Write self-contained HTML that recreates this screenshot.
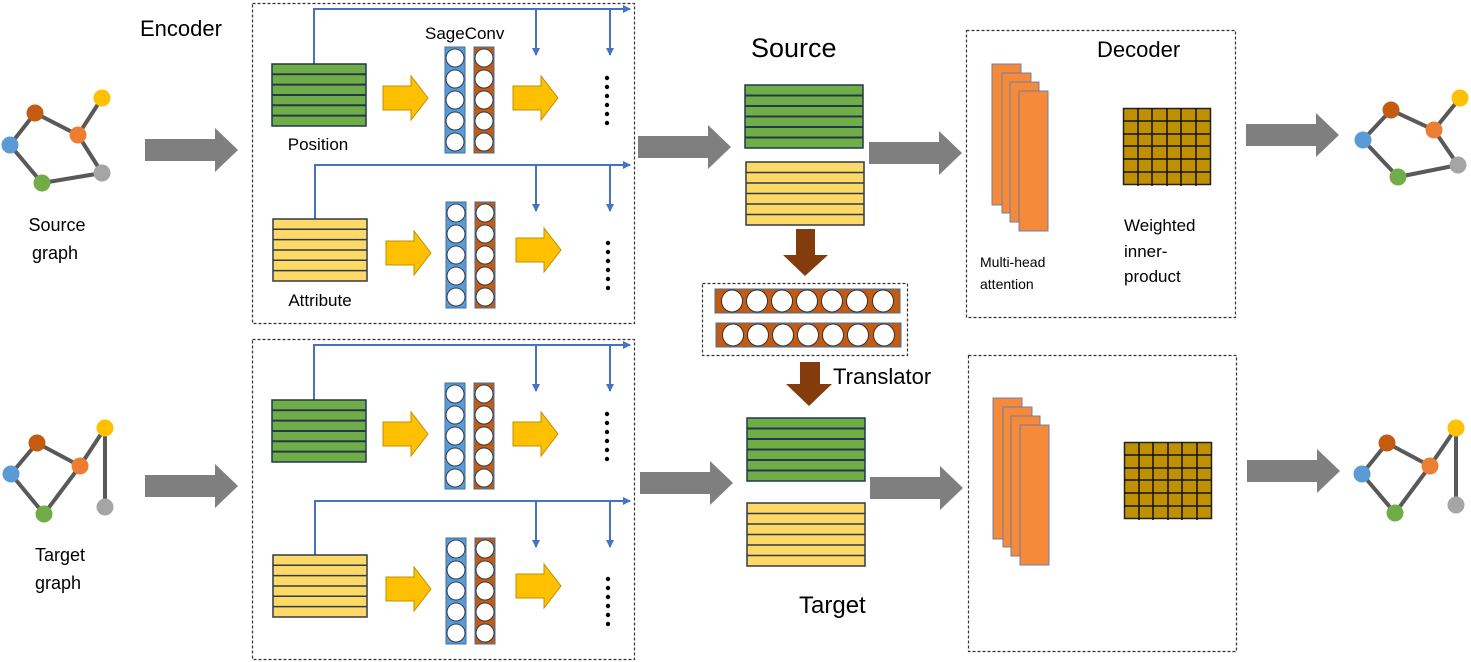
<!DOCTYPE html>
<html><head><meta charset="utf-8"><style>
html,body{margin:0;padding:0;background:#fff;}
svg{display:block;font-family:"Liberation Sans",sans-serif;}
</style></head><body>
<svg width="1471" height="662" viewBox="0 0 1471 662" xmlns="http://www.w3.org/2000/svg">
<defs>
  <marker id="ah" markerWidth="8" markerHeight="8" refX="7" refY="4" orient="auto" markerUnits="userSpaceOnUse">
    <path d="M0,0 L8,4 L0,8 z" fill="#4472c4"/>
  </marker>
  <g id="gblk">
    <rect x="0" y="0" width="94" height="62" fill="#70ad47" stroke="#1f3b4d" stroke-width="1.5"/>
    <path d="M0,10.3H94M0,20.6H94M0,31H94M0,41.3H94M0,51.6H94" stroke="#1f3b4d" stroke-width="2"/>
  </g>
  <g id="yblk">
    <rect x="0" y="0" width="94" height="62" fill="#ffd966" stroke="#2f3b4d" stroke-width="1.5"/>
    <path d="M0,10.3H94M0,20.6H94M0,31H94M0,41.3H94M0,51.6H94" stroke="#2f3b4d" stroke-width="1.5"/>
  </g>
  <g id="gblk2">
    <rect x="0" y="0" width="118" height="63" fill="#70ad47" stroke="#1f3b4d" stroke-width="1.5"/>
    <path d="M0,10.5H118M0,21H118M0,31.5H118M0,42H118M0,52.5H118" stroke="#1f3b4d" stroke-width="2"/>
  </g>
  <g id="yblk2">
    <rect x="0" y="0" width="118" height="63" fill="#ffd966" stroke="#2f3b4d" stroke-width="1.5"/>
    <path d="M0,10.5H118M0,21H118M0,31.5H118M0,42H118M0,52.5H118" stroke="#2f3b4d" stroke-width="1.5"/>
  </g>
  <g id="cols">
    <rect x="0" y="0" width="20" height="106" fill="#5b9bd5" stroke="#41719c"/>
    <rect x="29" y="0" width="20" height="106" fill="#c55a11" stroke="#41719c"/>
    <g fill="#fff" stroke="#2f3b4d" stroke-width="1">
      <circle cx="10" cy="11" r="9"/><circle cx="10" cy="32" r="9"/><circle cx="10" cy="53" r="9"/><circle cx="10" cy="74" r="9"/><circle cx="10" cy="95" r="9"/>
      <circle cx="39" cy="11" r="9"/><circle cx="39" cy="32" r="9"/><circle cx="39" cy="53" r="9"/><circle cx="39" cy="74" r="9"/><circle cx="39" cy="95" r="9"/>
    </g>
  </g>
  <polygon id="yarr" points="0,-12 28,-12 28,-22 45,0 28,22 28,12 0,12" fill="#ffc000" stroke="#bf9000" stroke-width="1"/>
  <polygon id="garr" points="0,-11 70,-11 70,-22 93,0 70,22 70,11 0,11" fill="#7f7f7f"/>
  <g id="dots" fill="#000">
    <circle cx="0" cy="0" r="2.2"/><circle cx="0" cy="9" r="2.2"/><circle cx="0" cy="18" r="2.2"/><circle cx="0" cy="27" r="2.2"/><circle cx="0" cy="36" r="2.2"/><circle cx="0" cy="45" r="2.2"/>
  </g>
  <g id="enc">
    <rect x="252.5" y="3.5" width="382" height="320" fill="none" stroke="#333" stroke-width="1.2" stroke-dasharray="3,2"/>
    <path d="M314,64 V9 H630" fill="none" stroke="#4472c4" stroke-width="2" marker-end="url(#ah)"/>
    <path d="M536,9 V55" stroke="#4472c4" stroke-width="2" marker-end="url(#ah)"/>
    <path d="M610,9 V55" stroke="#4472c4" stroke-width="2" marker-end="url(#ah)"/>
    <path d="M315,219 V165 H630" fill="none" stroke="#4472c4" stroke-width="2" marker-end="url(#ah)"/>
    <path d="M536,165 V211" stroke="#4472c4" stroke-width="2" marker-end="url(#ah)"/>
    <path d="M610,165 V211" stroke="#4472c4" stroke-width="2" marker-end="url(#ah)"/>
    <use href="#gblk" x="272" y="64"/>
    <use href="#yblk" x="273" y="219"/>
    <use href="#yarr" x="383" y="98"/>
    <use href="#yarr" x="513" y="98"/>
    <use href="#yarr" x="386" y="253"/>
    <use href="#yarr" x="516" y="250"/>
    <use href="#cols" x="445" y="47"/>
    <use href="#cols" x="446" y="202"/>
    <use href="#dots" x="607" y="78"/>
    <use href="#dots" x="608" y="243"/>
  </g>
  <g id="dec">
    <g fill="#f58a3a" stroke="#6d7fa8" stroke-width="1">
      <rect x="992" y="64" width="29" height="141"/>
      <rect x="1002" y="73" width="29" height="140"/>
      <rect x="1010" y="82" width="29" height="140"/>
      <rect x="1019" y="91" width="29" height="140"/>
    </g>
    <rect x="1123.5" y="108.5" width="87" height="76" fill="#bf9000" stroke="#222" stroke-width="1.5"/>
    <path d="M1123,121H1210M1123,134H1210M1123,146H1210M1123,159H1210M1123,172H1210M1138,108V186M1152,108V186M1167,108V186M1181,108V186M1196,108V186" stroke="#111" stroke-width="1.5"/>
  </g>
</defs>

<!-- encoders -->
<use href="#enc"/>
<use href="#enc" y="336"/>

<text x="140" y="36" font-size="22">Encoder</text>
<text x="425" y="39" font-size="17">SageConv</text>
<text x="318" y="150" font-size="17" text-anchor="middle">Position</text>
<text x="320" y="306" font-size="17" text-anchor="middle">Attribute</text>

<!-- source graph -->
<g stroke="#595959" stroke-width="4">
  <line x1="10" y1="145" x2="35" y2="113"/><line x1="35" y1="113" x2="78" y2="135"/>
  <line x1="78" y1="135" x2="102" y2="98"/><line x1="78" y1="135" x2="102" y2="173"/>
  <line x1="102" y1="173" x2="42" y2="183"/><line x1="42" y1="183" x2="10" y2="145"/>
</g>
<circle cx="35" cy="113" r="8.5" fill="#c55a11"/><circle cx="102" cy="98" r="8.5" fill="#ffc000"/>
<circle cx="78" cy="135" r="8.5" fill="#ed7d31"/><circle cx="10" cy="145" r="8.5" fill="#5b9bd5"/>
<circle cx="42" cy="183" r="8.5" fill="#70ad47"/><circle cx="102" cy="173" r="8.5" fill="#a5a5a5"/>
<text x="57" y="231" font-size="18" text-anchor="middle">Source</text>
<text x="55" y="259" font-size="18" text-anchor="middle">graph</text>

<!-- target graph -->
<g stroke="#595959" stroke-width="4">
  <line x1="11" y1="474" x2="37" y2="443"/><line x1="37" y1="443" x2="80" y2="466"/>
  <line x1="80" y1="466" x2="105" y2="428"/><line x1="105" y1="428" x2="105" y2="507"/>
  <line x1="80" y1="466" x2="44" y2="514"/><line x1="44" y1="514" x2="11" y2="474"/>
</g>
<circle cx="37" cy="443" r="8.5" fill="#c55a11"/><circle cx="105" cy="428" r="8.5" fill="#ffc000"/>
<circle cx="80" cy="466" r="8.5" fill="#ed7d31"/><circle cx="11" cy="474" r="8.5" fill="#5b9bd5"/>
<circle cx="44" cy="514" r="8.5" fill="#70ad47"/><circle cx="105" cy="507" r="8.5" fill="#a5a5a5"/>
<text x="60" y="561" font-size="18" text-anchor="middle">Target</text>
<text x="58" y="589" font-size="18" text-anchor="middle">graph</text>

<!-- gray arrows -->
<use href="#garr" x="145" y="150"/>
<use href="#garr" x="145" y="486"/>
<use href="#garr" x="638" y="147"/>
<use href="#garr" x="640" y="483"/>
<use href="#garr" x="869" y="153"/>
<use href="#garr" x="870" y="488"/>
<use href="#garr" x="1246" y="135"/>
<use href="#garr" x="1247" y="471"/>

<!-- middle -->
<text x="751" y="57" font-size="27">Source</text>
<use href="#gblk2" x="745" y="85"/>
<use href="#yblk2" x="746" y="162"/>
<polygon points="796,229 815,229 815,255 828,255 805,276 783,255 796,255" fill="#843c0c"/>
<rect x="702.5" y="283.5" width="205" height="72" fill="none" stroke="#333" stroke-width="1.2" stroke-dasharray="3,2"/>
<rect x="715" y="289" width="185" height="24" fill="#c55a11" stroke="#41719c"/>
<rect x="716" y="323" width="185" height="24" fill="#c55a11" stroke="#41719c"/>
<g fill="#fff" stroke="#333">
  <ellipse cx="732" cy="301" rx="10.5" ry="11"/><ellipse cx="757" cy="301" rx="10.5" ry="11"/><ellipse cx="782" cy="301" rx="10.5" ry="11"/><ellipse cx="807" cy="301" rx="10.5" ry="11"/><ellipse cx="832" cy="301" rx="10.5" ry="11"/><ellipse cx="857" cy="301" rx="10.5" ry="11"/><ellipse cx="883" cy="301" rx="10.5" ry="11"/>
  <ellipse cx="733" cy="335" rx="10.5" ry="11"/><ellipse cx="758" cy="335" rx="10.5" ry="11"/><ellipse cx="783" cy="335" rx="10.5" ry="11"/><ellipse cx="808" cy="335" rx="10.5" ry="11"/><ellipse cx="833" cy="335" rx="10.5" ry="11"/><ellipse cx="858" cy="335" rx="10.5" ry="11"/><ellipse cx="884" cy="335" rx="10.5" ry="11"/>
</g>
<polygon points="800,362 820,362 820,384 832,384 809,406 786,384 800,384" fill="#843c0c"/>
<text x="833" y="384" font-size="22">Translator</text>
<use href="#gblk2" x="747" y="418"/>
<use href="#yblk2" x="747" y="503"/>
<text x="799" y="613" font-size="24">Target</text>

<!-- decoders -->
<rect x="966.5" y="30.5" width="269" height="287" fill="none" stroke="#333" stroke-width="1.2" stroke-dasharray="3,2"/>
<rect x="968.5" y="355.5" width="268" height="296" fill="none" stroke="#333" stroke-width="1.2" stroke-dasharray="3,2"/>
<use href="#dec"/>
<use href="#dec" x="1" y="334"/>
<text x="1097" y="57" font-size="22">Decoder</text>
<text x="980" y="267" font-size="14">Multi-head</text>
<text x="980" y="289" font-size="14">attention</text>
<svg x="1120" y="205" width="82" height="90" overflow="hidden">
  <text x="4" y="26" font-size="17">Weighted</text>
  <text x="4" y="52" font-size="17">inner-</text>
  <text x="4" y="77" font-size="17">product</text>
</svg>

<!-- output graphs -->
<g stroke="#595959" stroke-width="4">
  <line x1="1363" y1="140" x2="1391" y2="110"/><line x1="1391" y1="110" x2="1434" y2="130"/>
  <line x1="1434" y1="130" x2="1460" y2="98"/><line x1="1434" y1="130" x2="1458" y2="165"/>
  <line x1="1458" y1="165" x2="1398" y2="177"/><line x1="1398" y1="177" x2="1363" y2="140"/>
</g>
<circle cx="1391" cy="110" r="8.5" fill="#c55a11"/><circle cx="1460" cy="98" r="8.5" fill="#ffc000"/>
<circle cx="1434" cy="130" r="8.5" fill="#ed7d31"/><circle cx="1363" cy="140" r="8.5" fill="#5b9bd5"/>
<circle cx="1398" cy="177" r="8.5" fill="#70ad47"/><circle cx="1458" cy="165" r="8.5" fill="#a5a5a5"/>
<g stroke="#595959" stroke-width="4">
  <line x1="1362" y1="474" x2="1387" y2="443"/><line x1="1387" y1="443" x2="1430" y2="466"/>
  <line x1="1430" y1="466" x2="1456" y2="428"/><line x1="1456" y1="428" x2="1456" y2="505"/>
  <line x1="1430" y1="466" x2="1395" y2="513"/><line x1="1395" y1="513" x2="1362" y2="474"/>
</g>
<circle cx="1387" cy="443" r="8.5" fill="#c55a11"/><circle cx="1456" cy="428" r="8.5" fill="#ffc000"/>
<circle cx="1430" cy="466" r="8.5" fill="#ed7d31"/><circle cx="1362" cy="474" r="8.5" fill="#5b9bd5"/>
<circle cx="1395" cy="513" r="8.5" fill="#70ad47"/><circle cx="1456" cy="505" r="8.5" fill="#a5a5a5"/>
</svg>
</body></html>
